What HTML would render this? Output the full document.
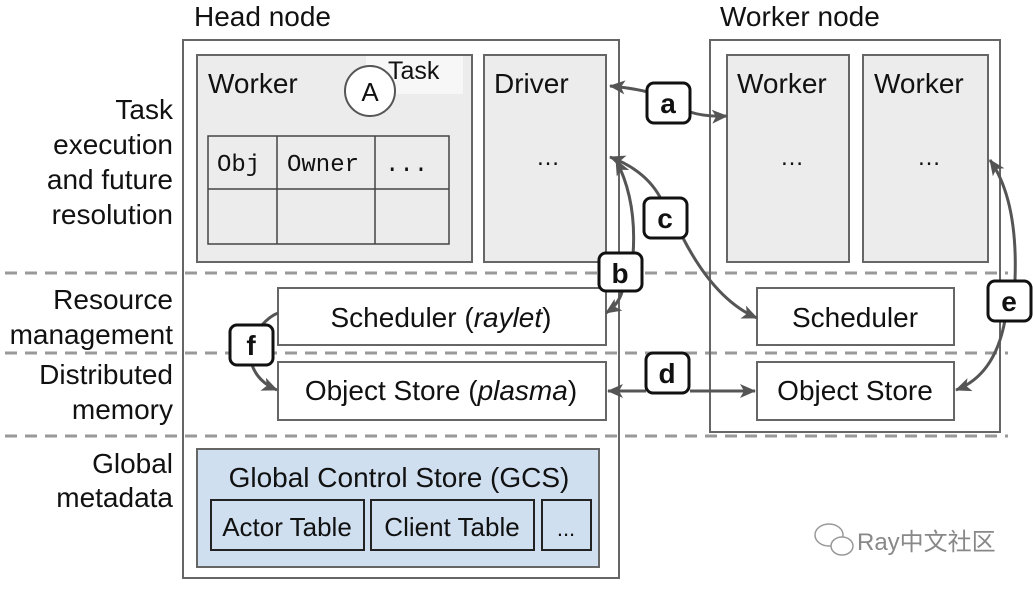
<!DOCTYPE html>
<html><head><meta charset="utf-8"><style>
body{margin:0;background:#fff}
svg text{font-family:"Liberation Sans",sans-serif;fill:#111}
</style></head><body>
<svg width="1033" height="586" viewBox="0 0 1033 586" xmlns="http://www.w3.org/2000/svg">
<defs>
<marker id="arb" markerWidth="16" markerHeight="14" refX="15" refY="7" orient="auto" markerUnits="userSpaceOnUse" viewBox="0 0 16 14"><path d="M0,0 L16,7 L0,14 L4,7 z" fill="#555"/></marker>
</defs>
<g stroke="#999" stroke-width="3" stroke-dasharray="12,8">
<line x1="5" y1="273" x2="1008" y2="273"/>
<line x1="5" y1="353" x2="1008" y2="353"/>
<line x1="5" y1="436" x2="1008" y2="436"/>
</g>
<rect x="183" y="40" width="436" height="538" fill="none" stroke="#666" stroke-width="2"/>
<text x="194" y="26" font-size="28">Head node</text>
<rect x="197" y="55" width="275" height="207" fill="#ececec" stroke="#666" stroke-width="2"/>
<rect x="366" y="56" width="97" height="38" fill="#f7f7f7"/>
<text x="208" y="93" font-size="28">Worker</text>
<text x="388" y="79" font-size="25">Task</text>
<circle cx="370" cy="91" r="25" fill="#fff" stroke="#555" stroke-width="2"/>
<text x="370" y="101" font-size="26" text-anchor="middle">A</text>
<g stroke="#444" stroke-width="1.5" fill="none">
<rect x="208" y="136" width="241" height="108"/>
<line x1="208" y1="189" x2="449" y2="189"/>
<line x1="277" y1="136" x2="277" y2="244"/>
<line x1="375" y1="136" x2="375" y2="244"/>
</g>
<g font-size="24">
<text x="217" y="171" style="font-family:'Liberation Mono',monospace">Obj</text>
<text x="287" y="171" style="font-family:'Liberation Mono',monospace">Owner</text>
<text x="385" y="171" style="font-family:'Liberation Mono',monospace">...</text>
</g>
<rect x="484" y="55" width="122" height="207" fill="#ececec" stroke="#666" stroke-width="2"/>
<text x="494" y="93" font-size="28">Driver</text>
<text x="548" y="165" font-size="24" text-anchor="middle">…</text>
<rect x="278" y="288" width="328" height="57" fill="#fff" stroke="#666" stroke-width="2"/>
<text x="441" y="327" font-size="28" text-anchor="middle">Scheduler (<tspan font-style="italic">raylet</tspan>)</text>
<rect x="278" y="362" width="328" height="58" fill="#fff" stroke="#666" stroke-width="2"/>
<text x="441" y="400" font-size="28" text-anchor="middle">Object Store (<tspan font-style="italic">plasma</tspan>)</text>
<rect x="197" y="449" width="402" height="118" fill="#cfdff0" stroke="#666" stroke-width="2"/>
<text x="399" y="487" font-size="28" text-anchor="middle">Global Control Store (GCS)</text>
<g fill="none" stroke="#222" stroke-width="2">
<rect x="211" y="500" width="153" height="50"/>
<rect x="371" y="500" width="163" height="50"/>
<rect x="542" y="500" width="49" height="50"/>
</g>
<text x="287" y="536" font-size="26" text-anchor="middle">Actor Table</text>
<text x="452" y="536" font-size="26" text-anchor="middle">Client Table</text>
<text x="566" y="536" font-size="22" text-anchor="middle">...</text>
<rect x="710" y="40" width="290" height="392" fill="none" stroke="#666" stroke-width="2"/>
<text x="720" y="26" font-size="28">Worker node</text>
<rect x="727" y="55" width="122" height="207" fill="#ececec" stroke="#666" stroke-width="2"/>
<text x="737" y="93" font-size="28">Worker</text>
<text x="792" y="165" font-size="24" text-anchor="middle">…</text>
<rect x="863" y="55" width="125" height="207" fill="#ececec" stroke="#666" stroke-width="2"/>
<text x="874" y="93" font-size="28">Worker</text>
<text x="929" y="165" font-size="24" text-anchor="middle">…</text>
<rect x="757" y="288" width="197" height="57" fill="#fff" stroke="#666" stroke-width="2"/>
<text x="855" y="327" font-size="28" text-anchor="middle">Scheduler</text>
<rect x="757" y="362" width="197" height="58" fill="#fff" stroke="#666" stroke-width="2"/>
<text x="855" y="400" font-size="28" text-anchor="middle">Object Store</text>
<g font-size="28" text-anchor="end">
<text x="173" y="119">Task</text>
<text x="173" y="154">execution</text>
<text x="173" y="189">and future</text>
<text x="173" y="224">resolution</text>
<text x="173" y="309">Resource</text>
<text x="173" y="344">management</text>
<text x="173" y="384">Distributed</text>
<text x="173" y="419">memory</text>
<text x="173" y="473">Global</text>
<text x="173" y="507">metadata</text>
</g>
<g fill="none" stroke="#555" stroke-width="3">
<path d="M648,92 Q632,88 610,86" marker-end="url(#arb)"/>
<path d="M690,112 Q705,117 727,116" marker-end="url(#arb)"/>
<path d="M660,197 Q645,170 610,157" marker-end="url(#arb)"/>
<path d="M683,238 Q715,300 757,318" marker-end="url(#arb)"/>
<path d="M633,255 Q637,200 616,160" marker-end="url(#arb)"/>
<path d="M622,292 Q618,305 606,313" marker-end="url(#arb)"/>
<line x1="646" y1="391" x2="608" y2="391" marker-end="url(#arb)"/>
<line x1="690" y1="391" x2="755" y2="391" marker-end="url(#arb)"/>
<path d="M1015,280 Q1018,200 990,160" marker-end="url(#arb)"/>
<path d="M1005,320 Q995,375 956,390" marker-end="url(#arb)"/>
<path d="M262,325 Q270,316 278,313"/>
<path d="M252,365 Q258,382 277,390" marker-end="url(#arb)"/>
</g>
<g fill="#fff" stroke="#111" stroke-width="3">
<rect x="647" y="83" width="43" height="40" rx="7"/>
<rect x="599" y="253" width="43" height="38" rx="7"/>
<rect x="644" y="198" width="43" height="40" rx="7"/>
<rect x="646" y="353" width="43" height="40" rx="7"/>
<rect x="988" y="281" width="43" height="40" rx="7"/>
<rect x="230" y="325" width="43" height="40" rx="7"/>
</g>
<g font-size="28" font-weight="bold" text-anchor="middle">
<text x="668" y="113">a</text>
<text x="620" y="283">b</text>
<text x="665" y="228">c</text>
<text x="667" y="383">d</text>
<text x="1009" y="311">e</text>
<text x="251" y="355">f</text>
</g>
<text x="857" y="550" font-size="24" style="fill:#888;font-family:'Liberation Sans','Noto Sans CJK SC',sans-serif">Ray中文社区</text>
<g fill="none" stroke="#999" stroke-width="1.5"><ellipse cx="829" cy="535" rx="14" ry="11"/><ellipse cx="842" cy="546" rx="11" ry="9" fill="#fff"/></g>
</svg>
</body></html>
